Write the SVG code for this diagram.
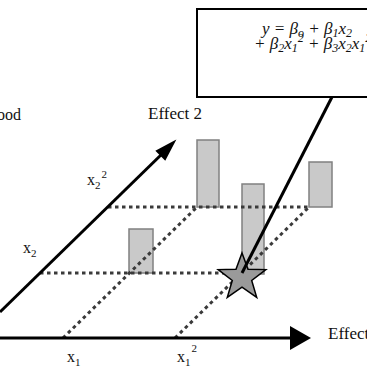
<svg xmlns="http://www.w3.org/2000/svg" width="367" height="367" viewBox="0 0 367 367">
<style>
text{font-family:"Liberation Serif","Times New Roman",serif;fill:#111}
.lbl{font-size:16px}
.sm{font-size:11px}
.eq{font-size:17px;font-style:italic}
.eqs{font-size:12px;font-style:italic}
.bar{fill:#c9c9c9;stroke:#808080;stroke-width:1.5}
.dot{stroke:#3a3a3a;stroke-width:3;stroke-dasharray:3.5 3.5;fill:none}
.axis{stroke:#000;stroke-width:3;fill:none}
</style>
<rect width="367" height="367" fill="#fff"/>
<g id="bars">
<rect id="bar1" class="bar" x="197" y="140" width="22" height="67"/>
<rect id="bar2" class="bar" x="242" y="184" width="22" height="90"/>
<rect id="bar3" class="bar" x="309" y="162" width="23" height="45"/>
<rect id="bar4" class="bar" x="129" y="229" width="24" height="44"/>
</g>
<g id="connectors">
<line class="dot" x1="108" y1="207" x2="309" y2="207"/>
<line class="dot" x1="40" y1="273" x2="240" y2="273"/>
<line class="dot" x1="63" y1="338" x2="197" y2="207"/>
<line class="dot" x1="175" y1="338" x2="309" y2="207"/>
<line class="axis" x1="0" y1="338" x2="292" y2="338"/>
<polygon points="290,326 311,338 290,350" fill="#000"/>
<line class="axis" x1="0" y1="312" x2="164" y2="152"/>
<polygon points="174,142 157,151 165,159" fill="#000" stroke="#000" stroke-width="2" stroke-linejoin="miter"/>
</g>
<g id="star">
<polygon points="242,253 248,269.3 265.8,269.6 251.7,280.5 256.7,297.4 242,287.2 227.3,297.4 232.3,280.5 218.2,269.6 236,269.3" fill="#9a9a9a" stroke="#000" stroke-width="1.5" stroke-linejoin="miter"/>
</g>
<g id="leader">
<line class="axis" x1="332" y1="97" x2="242" y2="273"/>
</g>
<g id="equation">
<rect x="197" y="9" width="200" height="88" fill="#fff" stroke="#000" stroke-width="2"/>
<text class="eq" x="262" y="34">y = β<tspan class="eqs" dy="3">o</tspan><tspan dy="-3"> + β</tspan><tspan class="eqs" dy="3">1</tspan><tspan dy="-3">x</tspan><tspan class="eqs" dy="3">2</tspan></text>
<text class="eq" x="254" y="49">+ β<tspan class="eqs" dy="3">2</tspan><tspan dy="-3">x</tspan><tspan class="eqs" dy="3">1</tspan><tspan class="eqs" dy="-10">2</tspan><tspan dy="7"> + β</tspan><tspan class="eqs" dy="3">3</tspan><tspan dy="-3">x</tspan><tspan class="eqs" dy="3">2</tspan><tspan dy="-3">x</tspan><tspan class="eqs" dy="3">1</tspan><tspan class="eqs" dy="-10">2</tspan></text>
</g>
<g id="labels">
<text class="lbl" x="21" y="120" text-anchor="end" font-size="16">ood</text>
<text class="lbl" x="148" y="119" style="font-size:17px">Effect 2</text>
<text class="lbl" x="328" y="339" style="font-size:17px">Effect</text>
<text class="lbl" x="87" y="185">x<tspan class="sm" dy="4">2</tspan><tspan class="sm" dx="1" dy="-11">2</tspan></text>
<text class="lbl" x="23" y="253">x<tspan class="sm" dy="4">2</tspan></text>
<text class="lbl" x="67" y="362">x<tspan class="sm" dy="4">1</tspan></text>
<text class="lbl" x="177" y="362">x<tspan class="sm" dy="4">1</tspan><tspan class="sm" dx="1" dy="-14">2</tspan></text>
</g>
</svg>
